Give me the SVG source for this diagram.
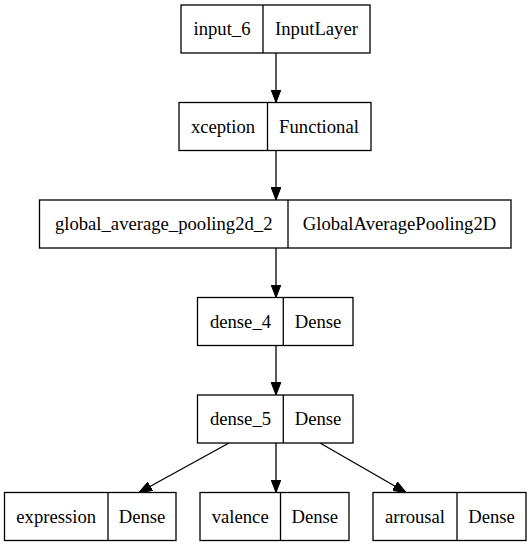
<svg xmlns="http://www.w3.org/2000/svg" width="531" height="547" viewBox="0 0 531 547">
<style>
  .box { fill: #ffffff; stroke: #000000; stroke-width: 1.3; }
  .div { stroke: #000000; stroke-width: 1.3; }
  text { font-family: 'Liberation Serif', 'DejaVu Serif', serif; font-size: 18.67px; fill: #000000; text-anchor: middle; }
  .edge { stroke: #000000; stroke-width: 1.3; fill: none; marker-end: url(#arrow); }
</style>
<defs>
  <marker id="arrow" markerUnits="userSpaceOnUse" markerWidth="14" markerHeight="10" refX="13" refY="5" orient="auto">
    <path d="M0,0 L13,5 L0,10 Z" fill="#000000" stroke="#000000" stroke-width="1"/>
  </marker>
</defs>
<rect x="0" y="0" width="531" height="547" fill="#ffffff"/>

<g id="connectors">
  <line class="edge" x1="276" y1="53" x2="276" y2="102.5"/>
  <line class="edge" x1="276" y1="150.5" x2="276" y2="200"/>
  <line class="edge" x1="276" y1="248" x2="276" y2="297.5"/>
  <line class="edge" x1="276" y1="345.5" x2="276" y2="395"/>
  <line class="edge" x1="229" y1="443" x2="139" y2="492.5"/>
  <line class="edge" x1="276" y1="443" x2="276" y2="492.5"/>
  <line class="edge" x1="320" y1="443" x2="406" y2="492.5"/>
</g>

<g id="input_6">
  <rect class="box" x="181" y="5" width="189" height="48"/>
  <line class="div" x1="263" y1="5" x2="263" y2="53"/>
  <text x="222" y="35" font-family="Liberation Serif, serif">input_6</text>
  <text x="316.5" y="35" font-family="Liberation Serif, serif">InputLayer</text>
</g>

<g id="xception">
  <rect class="box" x="179" y="102.5" width="192" height="48"/>
  <line class="div" x1="267.5" y1="102.5" x2="267.5" y2="150.5"/>
  <text x="223" y="132.5">xception</text>
  <text x="319" y="132.5">Functional</text>
</g>

<g id="global_average_pooling2d_2">
  <rect class="box" x="39.5" y="200" width="471.5" height="48"/>
  <line class="div" x1="288" y1="200" x2="288" y2="248"/>
  <text x="163.7" y="230">global_average_pooling2d_2</text>
  <text x="399.5" y="230">GlobalAveragePooling2D</text>
</g>

<g id="dense_4">
  <rect class="box" x="197.5" y="297.5" width="155.5" height="48"/>
  <line class="div" x1="283.3" y1="297.5" x2="283.3" y2="345.5"/>
  <text x="240.5" y="327.5">dense_4</text>
  <text x="318" y="327.5">Dense</text>
</g>

<g id="dense_5">
  <rect class="box" x="197.5" y="395" width="155.5" height="48"/>
  <line class="div" x1="283.3" y1="395" x2="283.3" y2="443"/>
  <text x="240.5" y="425">dense_5</text>
  <text x="318" y="425">Dense</text>
</g>

<g id="expression">
  <rect class="box" x="4.5" y="492.5" width="171.5" height="48"/>
  <line class="div" x1="108" y1="492.5" x2="108" y2="540.5"/>
  <text x="56.2" y="522.5">expression</text>
  <text x="142" y="522.5">Dense</text>
</g>

<g id="valence">
  <rect class="box" x="200" y="492.5" width="149" height="48"/>
  <line class="div" x1="280.5" y1="492.5" x2="280.5" y2="540.5"/>
  <text x="240.2" y="522.5">valence</text>
  <text x="314.8" y="522.5">Dense</text>
</g>

<g id="arrousal">
  <rect class="box" x="373" y="492.5" width="153" height="48"/>
  <line class="div" x1="457" y1="492.5" x2="457" y2="540.5"/>
  <text x="415" y="522.5">arrousal</text>
  <text x="491.5" y="522.5">Dense</text>
</g>
</svg>
